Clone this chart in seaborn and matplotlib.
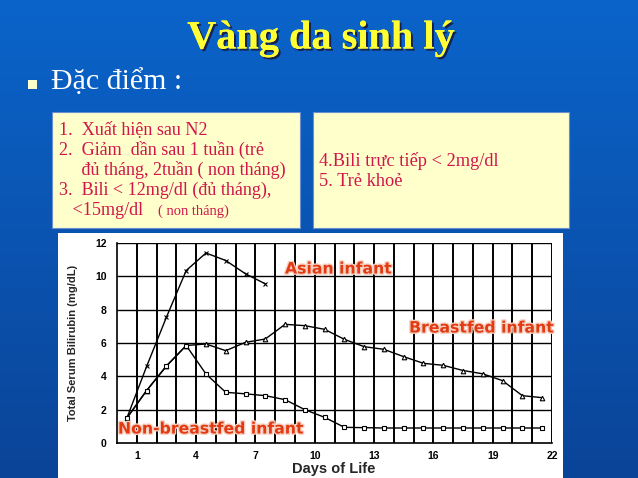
import numpy as np
import pandas as pd
import seaborn as sns
import matplotlib.pyplot as plt
import matplotlib.patheffects as pe
from matplotlib.patches import Rectangle

# data (days of life vs total serum bilirubin mg/dL)
asian_days = [0.5, 1.5, 2.5, 3.5, 4.5, 5.5, 6.5, 7.5]
asian_bili = [1.5, 4.6, 7.55, 10.35, 11.4, 10.95, 10.15, 9.55]

breastfed_days = [0.5, 1.5, 2.5, 3.5, 4.5, 5.5, 6.5, 7.5, 8.5, 9.5, 10.5,
                  11.5, 12.5, 13.5, 14.5, 15.5, 16.5, 17.5, 18.5, 19.5, 20.5, 21.5]
breastfed_bili = [1.5, 3.15, 4.62, 5.85, 5.94, 5.54, 6.04, 6.24, 7.12, 7.04, 6.82,
                  6.22, 5.78, 5.62, 5.18, 4.78, 4.66, 4.35, 4.15, 3.74, 2.84, 2.72]

nonbf_days = breastfed_days
nonbf_bili = [1.5, 3.15, 4.62, 5.85, 4.14, 3.04, 2.95, 2.84, 2.6, 2.0, 1.54,
              0.94, 0.92, 0.9, 0.9, 0.9, 0.9, 0.9, 0.9, 0.9, 0.9, 0.9]

xtick_vals = [1, 4, 7, 10, 13, 16, 19, 22]
ytick_vals = [0, 2, 4, 6, 8, 10, 12]

title = 'Vàng da sinh lý'
bullet_text = 'Đặc điểm :'
left_lines = ['1.  Xuất hiện sau N2',
              '2.  Giảm  dần sau 1 tuần (trẻ',
              '     đủ tháng, 2tuần ( non tháng)',
              '3.  Bili < 12mg/dl (đủ tháng),',
              '   <15mg/dl']
right_lines = ['4.Bili trực tiếp < 2mg/dl', '5. Trẻ khoẻ']

sns.set_style('white')
plt.rcParams['font.family'] = ['Liberation Serif', 'DejaVu Serif']

W, H = 638, 478
fig = plt.figure(figsize=(W / 100, H / 100), dpi=100)


def fx(px):
    return px / W


def fy(py):
    return 1 - py / H


# slide background (blue gradient)
bg = fig.add_axes([0, 0, 1, 1])
bg.set_zorder(-5)
grad = np.linspace(0, 1, 256).reshape(-1, 1)
top = np.array([0x0b, 0x64, 0xca]) / 255
bot = np.array([0x0a, 0x44, 0x98]) / 255
img = top + (bot - top) * grad[..., None]
bg.imshow(img, aspect='auto', extent=[0, 1, 0, 1])
bg.set_axis_off()

# title with shadow
fig.text(fx(321), fy(39), title, ha='center', va='center', fontsize=29,
         fontweight='bold', color='#ffff33', zorder=5,
         path_effects=[pe.withSimplePatchShadow(offset=(1.5, -1.5), shadow_rgbFace='#1a1a40', alpha=0.9),
                       pe.Normal()])

# bullet
fig.patches.append(Rectangle((fx(28), fy(89)), fx(9), 9 / H, transform=fig.transFigure,
                             facecolor='#ffffcc', edgecolor='none', zorder=1))
fig.text(fx(51), fy(82), bullet_text, ha='left', va='center', fontsize=21.5, color='white', zorder=5)

# text boxes
box_col = '#ffffcc'
txt_col = '#d0164a'
fig.patches.append(Rectangle((fx(52), fy(228)), fx(300 - 52), (228 - 112) / H,
                             transform=fig.transFigure, facecolor=box_col,
                             edgecolor='#6a8fd0', lw=0.8, zorder=1))
fig.patches.append(Rectangle((fx(313), fy(228)), fx(569 - 313), (228 - 112) / H,
                             transform=fig.transFigure, facecolor=box_col,
                             edgecolor='#6a8fd0', lw=0.8, zorder=1))
for i, line in enumerate(left_lines):
    fig.text(fx(59), fy(130 + i * 20.2), line, ha='left', va='center',
             fontsize=13.1, color=txt_col, zorder=5)
fig.text(fx(158), fy(211), '( non tháng)', ha='left', va='center', fontsize=10.5,
         color=txt_col, zorder=5)
for i, line in enumerate(right_lines):
    fig.text(fx(319), fy(161 + i 	* 21), line, ha='left', va='center',
             fontsize=13.2, color=txt_col, zorder=5)

# white panel holding the chart
fig.patches.append(Rectangle((fx(58), 0), fx(563 - 58), fy(233), transform=fig.transFigure,
                             facecolor='white', edgecolor='none', zorder=1))

ax = fig.add_axes([fx(117), fy(443), fx(552 - 117), (443 - 243) / H])
ax.set_zorder(3)
ax.set_facecolor('none')

frames = []
for name, d, v in [('Asian', asian_days, asian_bili),
                   ('Breastfed', breastfed_days, breastfed_bili),
                   ('Non-breastfed', nonbf_days, nonbf_bili)]:
    frames.append(pd.DataFrame({'day': d, 'bili': v, 'group': name}))
df = pd.concat(frames, ignore_index=True)

markers = {'Asian': 'x', 'Breastfed': '^', 'Non-breastfed': 's'}
for name, sub in df.groupby('group'):
    sns.lineplot(data=sub, x='day', y='bili', ax=ax, color='black', lw=1.0,
                 marker=markers[name], markersize=3.3, markerfacecolor='white',
                 markeredgecolor='black', markeredgewidth=0.8)

ax.set_xlim(0, 22)
ax.set_ylim(0, 12)
for d in range(1, 23):
    ax.axvline(d, color='black', lw=1.4, zorder=0)
for v in ytick_vals[1:]:
    ax.axhline(v, color='black', lw=1.0, zorder=0)

for s in ['top', 'right']:
    ax.spines[s].set_visible(False)
for s in ['left', 'bottom']:
    ax.spines[s].set_color('black')
    ax.spines[s].set_linewidth(1.2)

ax.set_xticks(xtick_vals)
ax.set_yticks(ytick_vals)
ax.set_xticks(range(0, 23), minor=True)
ax.tick_params(axis='both', which='both', direction='out', length=4, width=1,
               colors='black', labelsize=7.5)
ax.tick_params(axis='x', pad=2)
for lab in ax.get_xticklabels() + ax.get_yticklabels():
    lab.set_family(['Liberation Sans', 'DejaVu Sans'])
    lab.set_fontweight('bold')
ax.set_xlabel('')
ax.set_ylabel('')

fig.text(fx(73), fy(343), 'Total Serum Bilirubin (mg/dL)', rotation=90, ha='center',
         va='center', fontsize=8, fontweight='bold', zorder=5,
         family=['Liberation Sans Narrow', 'Liberation Sans', 'DejaVu Sans'])
fig.text(fx(334), fy(469), 'Days of Life', ha='center', va='center', fontsize=10.5,
         fontweight='bold', zorder=5, family=['Liberation Sans', 'DejaVu Sans'])

# series labels
lab_kw = dict(fontsize=11.3, fontweight='bold', color='#e23a12', zorder=6,
              family=['DejaVu Sans'], va='center',
              path_effects=[pe.withStroke(linewidth=2, foreground='#f5d0c0')])
fig.text(fx(285), fy(269), 'Asian infant', ha='left', **lab_kw)
fig.text(fx(555), fy(328), 'Breastfed infant', ha='right', **lab_kw)
fig.text(fx(118), fy(429), 'Non-breastfed infant', ha='left', **lab_kw)

fig.savefig('out.png', dpi=100)
